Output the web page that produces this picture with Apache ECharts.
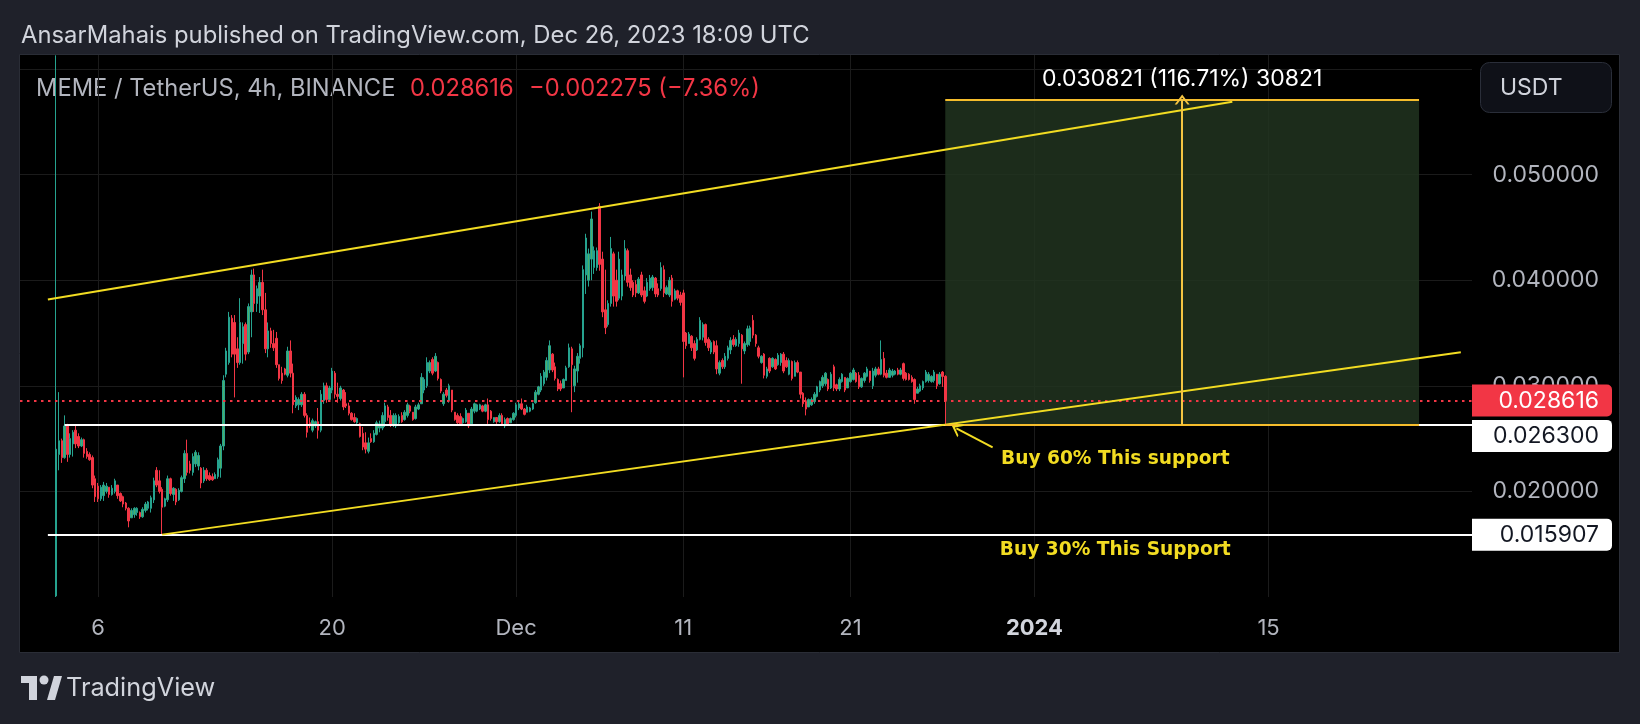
<!DOCTYPE html>
<html>
<head>
<meta charset="utf-8" />
<title>MEME / TetherUS, 4h</title>
<script src="https://cdn.jsdelivr.net/npm/echarts@6/dist/echarts.min.js"></script>
<style>
  html, body { margin: 0; padding: 0; background: #1f212a; }
  #chart { width: 1640px; height: 724px; }
</style>
</head>
<body>
<div id="chart"></div>
<script type="text/javascript">
// 4h slots on the time axis (Nov 1 2023 08:00 UTC .. Jan 27 2024)
var slotStart = Date.UTC(2023, 10, 1, 8);
var slotCount = 522;
function pad(n) { return n < 10 ? '0' + n : '' + n; }
function slotName(t) {
  var d = new Date(t);
  return d.getUTCFullYear() + '-' + pad(d.getUTCMonth() + 1) + '-' + pad(d.getUTCDate()) + ' ' + pad(d.getUTCHours()) + ':00';
}
var slots = [];
for (var s = 0; s < slotCount; s++) slots.push(slotName(slotStart + s * 4 * 3600 * 1000));

var tickDates = ['2023-11-06 00:00', '2023-11-20 00:00', '2023-12-01 00:00', '2023-12-11 00:00', '2023-12-21 00:00', '2024-01-01 00:00', '2024-01-15 00:00'];
var tickLabels = ['6', '20', 'Dec', '11', '21', '2024', '15'];

// MEME/USDT 4h candles, first one at 2023-11-03 12:00 : [open, close, low, high]
var firstCandle = '2023-11-03 12:00';
var candles = [
  [0.0101,0.0240,0.0100,0.0613],[0.0235,0.0248,0.0220,0.0294],[0.0248,0.0232,0.0227,0.0250],[0.0232,0.0262,0.0231,0.0272],
  [0.0262,0.0235,0.0228,0.0264],[0.0235,0.0250,0.0232,0.0255],[0.0245,0.0256,0.0233,0.0258],[0.0258,0.0245,0.0241,0.0262],
  [0.0252,0.0243,0.0241,0.0255],[0.0243,0.0249,0.0242,0.0251],[0.0249,0.0236,0.0232,0.0250],[0.0238,0.0233,0.0231,0.0241],
  [0.0235,0.0230,0.0229,0.0237],[0.0232,0.0206,0.0203,0.0234],[0.0212,0.0195,0.0190,0.0215],[0.0205,0.0193,0.0190,0.0208],
  [0.0193,0.0204,0.0191,0.0206],[0.0196,0.0206,0.0191,0.0209],[0.0200,0.0205,0.0198,0.0208],[0.0204,0.0197,0.0194,0.0204],
  [0.0197,0.0203,0.0196,0.0206],[0.0200,0.0210,0.0198,0.0212],[0.0206,0.0196,0.0193,0.0206],[0.0198,0.0191,0.0190,0.0199],
  [0.0195,0.0188,0.0185,0.0196],[0.0189,0.0184,0.0182,0.0190],[0.0184,0.0172,0.0166,0.0185],[0.0175,0.0182,0.0175,0.0184],
  [0.0178,0.0184,0.0175,0.0185],[0.0180,0.0184,0.0177,0.0185],[0.0180,0.0176,0.0174,0.0181],[0.0176,0.0183,0.0175,0.0185],
  [0.0182,0.0188,0.0180,0.0190],[0.0184,0.0190,0.0182,0.0191],[0.0184,0.0194,0.0180,0.0196],[0.0192,0.0210,0.0189,0.0213],
  [0.0220,0.0206,0.0204,0.0223],[0.0210,0.0200,0.0198,0.0220],[0.0202,0.0185,0.015907,0.0204],[0.0186,0.0193,0.0185,0.0194],
  [0.0192,0.0212,0.0190,0.0215],[0.0212,0.0198,0.0196,0.0213],[0.0197,0.0203,0.0191,0.0204],[0.0202,0.0190,0.0187,0.0203],
  [0.0192,0.0201,0.0191,0.0203],[0.0200,0.0213,0.0199,0.0215],[0.0212,0.0236,0.0208,0.0239],[0.0236,0.0218,0.0215,0.0249],
  [0.0226,0.0220,0.0217,0.0229],[0.0218,0.0233,0.0215,0.0236],[0.0226,0.0237,0.0223,0.0239],[0.0224,0.0234,0.0220,0.0237],
  [0.0222,0.0208,0.0203,0.0223],[0.0210,0.0220,0.0208,0.0223],[0.0220,0.0212,0.0210,0.0222],[0.0215,0.0211,0.0210,0.0218],
  [0.0214,0.0211,0.0210,0.0217],[0.0212,0.0216,0.0212,0.0218],[0.0214,0.0230,0.0212,0.0232],[0.0222,0.0243,0.0213,0.0245],
  [0.0243,0.0305,0.0239,0.0310],
  [0.0311,0.0333,0.0308,0.0336],[0.0322,0.0365,0.0320,0.0370],[0.0364,0.0330,0.0327,0.0367],[0.0360,0.0330,0.0289,0.0367],
  [0.0335,0.0322,0.0317,0.0346],[0.0322,0.0360,0.0320,0.0383],[0.0340,0.0356,0.0321,0.0360],[0.0358,0.0330,0.0324,0.0360],
  [0.0332,0.0375,0.0330,0.0378],[0.0370,0.0405,0.0346,0.0410],[0.0405,0.0378,0.0370,0.0411],[0.0378,0.0392,0.0370,0.0395],
  [0.0385,0.0398,0.0369,0.0403],[0.0398,0.0372,0.0367,0.0410],[0.0372,0.0335,0.0331,0.0388],[0.0335,0.0352,0.0327,0.0360],
  [0.0352,0.0340,0.0336,0.0355],[0.0340,0.0336,0.0333,0.0353],[0.0345,0.0320,0.0317,0.0351],[0.0320,0.0307,0.0305,0.0320],
  [0.0312,0.0305,0.0302,0.0318],[0.0316,0.0311,0.0310,0.0317],[0.0310,0.0333,0.0308,0.0337],[0.0333,0.0312,0.0308,0.0343],
  [0.0312,0.0282,0.0274,0.0321],[0.0281,0.0289,0.0279,0.0291],[0.0282,0.0287,0.0277,0.0289],[0.0282,0.0292,0.0280,0.0294],
  [0.0292,0.0272,0.0270,0.0294],[0.0272,0.0256,0.0251,0.0274],[0.0265,0.0262,0.0260,0.0270],[0.0258,0.0267,0.0256,0.0269],
  [0.0262,0.0266,0.0260,0.0267],[0.0266,0.0258,0.0250,0.0279],[0.0258,0.0292,0.0256,0.0296],[0.0286,0.0300,0.0283,0.0303],
  [0.0300,0.0287,0.0284,0.0303],[0.0287,0.0298,0.0286,0.0300],[0.0296,0.0314,0.0293,0.0317],[0.0312,0.0292,0.0288,0.0314],
  [0.0292,0.0290,0.0284,0.0303],[0.0288,0.0298,0.0286,0.0300],[0.0296,0.0280,0.0277,0.0297],[0.0283,0.0281,0.0279,0.0294],
  [0.0281,0.0274,0.0272,0.0284],[0.0274,0.0268,0.0267,0.0275],[0.0270,0.0266,0.0265,0.0274],[0.0265,0.0269,0.0264,0.0270],
  [0.0264,0.0252,0.0251,0.0265],[0.0255,0.0242,0.0239,0.0261],[0.0246,0.0240,0.0236,0.0256],
  [0.0238,0.0246,0.0236,0.0251],[0.0250,0.0247,0.0246,0.0255],[0.0247,0.0255,0.0246,0.0258],[0.0254,0.0265,0.0253,0.0267],
  [0.0260,0.0264,0.0256,0.0267],[0.0260,0.0272,0.0258,0.0275],[0.0266,0.0281,0.0261,0.0284],[0.0280,0.0270,0.0267,0.0282],
  [0.0272,0.0263,0.0261,0.0277],[0.0263,0.0272,0.0261,0.0274],
  [0.0262,0.0272,0.0260,0.0274],[0.0265,0.0271,0.0264,0.0273],[0.0272,0.0266,0.0265,0.0275],[0.0268,0.0275,0.0267,0.0277],
  [0.0272,0.0282,0.0270,0.0284],[0.0281,0.0276,0.0274,0.0282],[0.0275,0.0268,0.0267,0.0275],[0.0269,0.0280,0.0268,0.0282],
  [0.0278,0.0282,0.0277,0.0284],[0.0283,0.0308,0.0283,0.0312],[0.0296,0.0306,0.0293,0.0308],[0.0300,0.0322,0.0298,0.0327],
  [0.0314,0.0322,0.0312,0.0324],[0.0325,0.0312,0.0310,0.0327],[0.0314,0.0328,0.0313,0.0331],[0.0322,0.0307,0.0305,0.0323],
  [0.0306,0.0295,0.0293,0.0307],[0.0283,0.0292,0.0281,0.0294],[0.0296,0.0291,0.0289,0.0298],[0.0286,0.0300,0.0284,0.0302],
  [0.0296,0.0277,0.0275,0.0296],[0.0275,0.0268,0.0267,0.0275],[0.0272,0.0265,0.0264,0.0274],[0.0271,0.0264,0.0262,0.0274],
  [0.0265,0.0269,0.0264,0.0270],[0.0266,0.0277,0.0265,0.0279],[0.0274,0.0262,0.0260,0.0274],[0.0264,0.0278,0.0264,0.0280],
  [0.0276,0.0283,0.0274,0.0284],[0.0276,0.0282,0.0275,0.0283],[0.0278,0.0282,0.0277,0.0283],[0.0281,0.0276,0.0275,0.0282],
  [0.0276,0.0282,0.0275,0.0283],[0.0282,0.0268,0.0264,0.0288],[0.0276,0.0269,0.0267,0.0277],[0.0266,0.0270,0.0265,0.0270],
  [0.0270,0.0266,0.0264,0.0270],[0.0266,0.0272,0.0265,0.0274],[0.0272,0.0264,0.0262,0.0274],[0.0262,0.0268,0.0260,0.0270],
  [0.0269,0.0264,0.0262,0.0270],[0.0265,0.0269,0.0265,0.0270],[0.0268,0.0274,0.0267,0.0275],[0.0272,0.0282,0.0270,0.0284],
  [0.0279,0.0283,0.0277,0.0285],[0.0283,0.0278,0.0277,0.0288],[0.0278,0.0273,0.0272,0.0279],[0.0275,0.0280,0.0275,0.0282],
  [0.0276,0.0279,0.0275,0.0280],[0.0278,0.0283,0.0277,0.0284],[0.0284,0.0294,0.0283,0.0296],[0.0292,0.0299,0.0291,0.0300],
  [0.0296,0.0309,0.0294,0.0312],[0.0302,0.0313,0.0300,0.0315],[0.0308,0.0324,0.0305,0.0327],[0.0315,0.0338,0.0312,0.0343],
  [0.0330,0.0315,0.0313,0.0331],[0.0318,0.0307,0.0305,0.0322],[0.0306,0.0297,0.0295,0.0307],[0.0302,0.0297,0.0295,0.0305],
  [0.0298,0.0306,0.0298,0.0307],[0.0305,0.0317,0.0305,0.0319],[0.0318,0.0336,0.0317,0.0340],[0.0335,0.0320,0.0275,0.0337],
  [0.0300,0.0316,0.0294,0.0319],[0.0314,0.0328,0.0303,0.0331],[0.0326,0.0338,0.0321,0.0340],[0.0336,0.0410,0.0327,0.0414],
  [0.0405,0.0440,0.0387,0.0444],[0.0400,0.0425,0.0394,0.0430],[0.0420,0.0458,0.0400,0.0465],[0.0412,0.0428,0.0406,0.0432],
  [0.0412,0.0428,0.0409,0.0431],[0.0470,0.0415,0.0409,0.0473],[0.0420,0.0370,0.0365,0.0427],[0.0372,0.0355,0.0349,0.0410],
  [0.0358,0.0378,0.0356,0.0381],[0.0378,0.0430,0.0375,0.0441],[0.0425,0.0385,0.0375,0.0427],[0.0400,0.0380,0.0375,0.0410],
  [0.0383,0.0420,0.0381,0.0427],[0.0385,0.0405,0.0381,0.0410],[0.0404,0.0430,0.0400,0.0438],[0.0428,0.0398,0.0394,0.0430],
  [0.0405,0.0393,0.0390,0.0411],[0.0398,0.0386,0.0384,0.0400],[0.0396,0.0388,0.0384,0.0400],[0.0388,0.0401,0.0387,0.0403],
  [0.0405,0.0386,0.0384,0.0408],[0.0390,0.0380,0.0378,0.0394],[0.0385,0.0398,0.0384,0.0402],[0.0392,0.0402,0.0390,0.0405],
  [0.0393,0.0403,0.0390,0.0405],[0.0402,0.0387,0.0384,0.0403],[0.0392,0.0386,0.0384,0.0397],[0.0392,0.0412,0.0390,0.0417],
  [0.0410,0.0388,0.0384,0.0414],[0.0387,0.0393,0.0386,0.0395],[0.0386,0.0400,0.0384,0.0403],[0.0402,0.0380,0.0375,0.0405],
  [0.0382,0.0390,0.0381,0.0392],[0.0390,0.0383,0.0381,0.0391],[0.0386,0.0379,0.0376,0.0389],[0.0388,0.0342,0.0308,0.0391],
  [0.0350,0.0338,0.0335,0.0351],[0.0340,0.0349,0.0340,0.0351],[0.0347,0.0336,0.0333,0.0348],[0.0340,0.0326,0.0324,0.0343],
  [0.0334,0.0344,0.0333,0.0346],[0.0344,0.0362,0.0343,0.0365],[0.0346,0.0358,0.0343,0.0360],[0.0358,0.0341,0.0338,0.0359],
  [0.0344,0.0336,0.0333,0.0346],[0.0332,0.0341,0.0330,0.0343],[0.0342,0.0332,0.0330,0.0343],[0.0338,0.0316,0.0311,0.0343],
  [0.0312,0.0322,0.0310,0.0324],[0.0324,0.0318,0.0316,0.0326],[0.0318,0.0328,0.0316,0.0331],[0.0326,0.0336,0.0324,0.0338],
  [0.0334,0.0343,0.0330,0.0346],[0.0344,0.0339,0.0337,0.0348],[0.0338,0.0344,0.0337,0.0346],[0.0340,0.0350,0.0337,0.0353],
  [0.0348,0.0335,0.0302,0.0349],[0.0333,0.0340,0.0330,0.0342],[0.0339,0.0354,0.0337,0.0357],[0.0342,0.0355,0.0338,0.0357],
  [0.0362,0.0348,0.0345,0.0367],[0.0348,0.0340,0.0337,0.0349],
  [0.0336,0.0328,0.0326,0.0338],[0.0322,0.0328,0.0321,0.0329],[0.0330,0.0310,0.0307,0.0331],[0.0309,0.0316,0.0307,0.0318],
  [0.0326,0.0314,0.0312,0.0327],[0.0318,0.0326,0.0317,0.0327],[0.0325,0.0316,0.0315,0.0326],[0.0320,0.0329,0.0319,0.0331],
  [0.0322,0.0330,0.0319,0.0331],[0.0330,0.0314,0.0312,0.0332],[0.0324,0.0318,0.0317,0.0327],[0.0311,0.0324,0.0310,0.0326],
  [0.0323,0.0307,0.0305,0.0324],[0.0309,0.0322,0.0309,0.0324],[0.0322,0.0313,0.0312,0.0324],[0.0313,0.0292,0.0288,0.0313],
  [0.0293,0.0283,0.0280,0.0294],[0.0285,0.0278,0.0272,0.0289],[0.0280,0.0287,0.0280,0.0288],[0.0282,0.0287,0.0281,0.0289],
  [0.0285,0.0292,0.0283,0.0294],[0.0290,0.0299,0.0289,0.0300],[0.0296,0.0304,0.0294,0.0305],[0.0300,0.0308,0.0298,0.0310],
  [0.0302,0.0312,0.0300,0.0313],[0.0306,0.0297,0.0295,0.0307],[0.0298,0.0311,0.0297,0.0313],[0.0318,0.0298,0.0295,0.0320],
  [0.0301,0.0297,0.0295,0.0302],[0.0297,0.0306,0.0295,0.0308],[0.0304,0.0311,0.0303,0.0312],[0.0308,0.0296,0.0294,0.0308],
  [0.0298,0.0307,0.0298,0.0308],[0.0304,0.0312,0.0303,0.0313],[0.0306,0.0315,0.0305,0.0317],[0.0312,0.0304,0.0303,0.0313],
  [0.0310,0.0299,0.0297,0.0313],[0.0299,0.0307,0.0298,0.0308],[0.0305,0.0312,0.0303,0.0313],[0.0309,0.0316,0.0308,0.0318],
  [0.0314,0.0305,0.0303,0.0314],[0.0300,0.0314,0.0297,0.0317],[0.0310,0.0316,0.0308,0.0318],[0.0316,0.0311,0.0310,0.0318],
  [0.0311,0.0325,0.0310,0.0343],[0.0326,0.0310,0.0308,0.0332],[0.0312,0.0308,0.0307,0.0315],[0.0308,0.0315,0.0308,0.0317],
  [0.0310,0.0314,0.0308,0.0316],[0.0311,0.0314,0.0310,0.0315],[0.0315,0.0311,0.0310,0.0317],[0.0311,0.0315,0.0310,0.0317],
  [0.0321,0.0307,0.0305,0.0322],[0.0312,0.0306,0.0305,0.0313],[0.0311,0.0306,0.0305,0.0312],[0.0308,0.0304,0.0303,0.0310],
  [0.0306,0.0287,0.0283,0.0307],[0.0293,0.0297,0.0293,0.0299],[0.0295,0.0300,0.0294,0.0302],[0.0298,0.0304,0.0296,0.0305],
  [0.0304,0.0313,0.0303,0.0315],[0.0305,0.0311,0.0303,0.0313],[0.0304,0.0309,0.0303,0.0310],[0.0305,0.0313,0.0303,0.0315],
  [0.0311,0.0300,0.0297,0.0311],[0.0302,0.0311,0.0301,0.0313],[0.0313,0.030891,0.0299,0.0314],[0.0309,0.028616,0.0263,0.0310]
];

// levels and drawings
var lastPrice = 0.028616;
var supportHigh = 0.0263;
var supportLow = 0.015907;
var targetPrice = 0.057121;
var targetText = '0.030821 (116.71%) 30821';
var channelUpper = [['2023-11-03 00:00', 0.03818], ['2024-01-12 20:00', 0.05690]];
var channelLower = [['2023-11-09 20:00', 0.015907], ['2024-01-26 12:00', 0.03318]];
var supportHighFrom = '2023-11-04 00:00';
var supportLowFrom = '2023-11-03 00:00';
var positionFrom = '2023-12-26 16:00';
var positionTo = '2024-01-24 00:00';
var arrowAt = '2024-01-09 20:00';
var buyArrow = [['2023-12-29 12:00', 0.02417], ['2023-12-27 08:00', 0.02597]];
var notes = [['2024-01-05 20:00', 0.02303, 'Buy 60% This support'], ['2024-01-05 20:00', 0.01441, 'Buy 30% This Support']];

var FONT = 'Inter, "Noto Sans", Roboto, sans-serif';
var chevron = 'path://M0,12 L6,0 L12,12 L10.2,12 L6,4 L1.8,12 Z';
var gridColor = '#1b1b1b';

var firstSlot = slots.indexOf(firstCandle);
var candleData = candles.map(function (c, i) { return [firstSlot + i, c[0], c[1], c[2], c[3]]; });
var lastSlot = slots[slots.length - 1];

function isTick(idx, val) { return tickDates.indexOf(val) >= 0; }

function priceTag(value, bg, fg, extraTop) {
  return {
    show: true, position: 'end', distance: 0,
    padding: [extraTop || 0, 0, 0, 0],
    formatter: '{t|' + value.toFixed(6) + '}',
    rich: { t: { backgroundColor: bg, color: fg, fontFamily: FONT, fontSize: 23, lineHeight: 24,
                 width: 116, align: 'right', padding: [5, 13, 4, 11], borderRadius: [0, 5, 5, 0] } }
  };
}

var dom = document.getElementById('chart');
var myChart = echarts.init(dom, null, { renderer: 'canvas' });

var option = {
  backgroundColor: '#1f212a',
  animation: false,
  textStyle: { fontFamily: FONT },
  grid: { left: 20, right: 168, top: 55, bottom: 127 },
  xAxis: {
    type: 'category', data: slots, boundaryGap: false,
    axisLine: { show: false }, axisTick: { show: false },
    axisLabel: {
      interval: isTick,
      color: '#b2b5be', fontSize: 22, fontFamily: FONT, margin: 20,
      formatter: function (v) {
        var k = tickDates.indexOf(v);
        if (k < 0) return '';
        return tickLabels[k] === '2024' ? '{b|2024}' : tickLabels[k];
      },
      rich: { b: { fontWeight: 'bold', fontSize: 22, color: '#d1d4dc', fontFamily: FONT } }
    },
    splitLine: { show: true, interval: isTick, lineStyle: { color: gridColor, width: 1 } }
  },
  yAxis: {
    type: 'value', position: 'right', min: 0.01, max: 0.06133, interval: 0.01,
    axisLine: { show: false }, axisTick: { show: false },
    axisLabel: {
      color: '#b2b5be', fontSize: 23, fontFamily: FONT, align: 'right', margin: 127,
      formatter: function (v) { return (v > 0.015 && v < 0.055) ? v.toFixed(6) : ''; }
    },
    splitLine: { showMinLine: false, showMaxLine: false, lineStyle: { color: gridColor, width: 1 } }
  },
  series: [{
    type: 'candlestick',
    data: candleData,
    encode: { x: 0, y: [1, 2, 3, 4] },
    barWidth: 2,
    clip: true,
    itemStyle: { color: '#4cae68', color0: '#f23645', borderColor: '#26a38f', borderColor0: '#f23645', borderWidth: 1 },
    markArea: {
      silent: true,
      data: [[{ coord: [positionFrom, targetPrice], itemStyle: { color: 'rgba(34,54,33,0.82)' } }, { coord: [positionTo, supportHigh] }]]
    },
    markLine: {
      silent: true, animation: false, precision: 6, symbol: ['none', 'none'],
      label: { show: false },
      data: [
        { yAxis: lastPrice, lineStyle: { color: '#f23645', type: [2.5, 4.5], width: 2 }, label: priceTag(lastPrice, '#f23645', '#ffffff') },
        [{ coord: [supportHighFrom, supportHigh], lineStyle: { color: '#ffffff', type: 'solid', width: 2 }, label: priceTag(supportHigh, '#ffffff', '#131722', 22) },
         { coord: [lastSlot, supportHigh] }],
        [{ coord: [supportLowFrom, supportLow], lineStyle: { color: '#ffffff', type: 'solid', width: 2 }, label: priceTag(supportLow, '#ffffff', '#131722') },
         { coord: [lastSlot, supportLow] }],
        [{ coord: channelUpper[0], lineStyle: { color: '#f2dc22', type: 'solid', width: 2 } }, { coord: channelUpper[1] }],
        [{ coord: channelLower[0], lineStyle: { color: '#f2dc22', type: 'solid', width: 2 } }, { coord: channelLower[1] }],
        [{ coord: [positionFrom, targetPrice], lineStyle: { color: '#f5bd2c', type: 'solid', width: 2 } }, { coord: [positionTo, targetPrice] }],
        [{ coord: [positionFrom, supportHigh], lineStyle: { color: '#f5bd2c', type: 'solid', width: 2 } }, { coord: [positionTo, supportHigh] }],
        [{ coord: [arrowAt, supportHigh], lineStyle: { color: '#f5c542', type: 'solid', width: 2 },
           label: { show: true, position: 'end', distance: 9, color: '#ffffff', fontSize: 23, fontFamily: FONT, formatter: targetText } },
         { coord: [arrowAt, targetPrice], symbol: chevron, symbolSize: [15, 10] }],
        [{ coord: buyArrow[0], lineStyle: { color: '#f2dc22', type: 'solid', width: 2 } },
         { coord: buyArrow[1], symbol: chevron, symbolSize: [15, 10] }]
      ]
    },
    markPoint: {
      silent: true, animation: false,
      data: notes.map(function (n) {
        return { coord: [n[0], n[1]], symbol: 'circle', symbolSize: 0,
                 label: { show: true, position: 'inside', formatter: n[2], color: '#f2dc22', fontWeight: 'bold', fontSize: 18.6, fontFamily: '"DejaVu Sans", Verdana, sans-serif' } };
      })
    }
  }],
  graphic: [
    { type: 'rect', z: -10, shape: { x: 19.5, y: 54.5, width: 1600, height: 598 }, style: { fill: '#000000', stroke: '#2a2d36', lineWidth: 1 } },
    { type: 'text', x: 21, y: 36, style: { text: 'AnsarMahais published on TradingView.com, Dec 26, 2023 18:09 UTC', fill: '#d1d4dc', font: '23.8px ' + FONT, verticalAlign: 'middle', textVerticalAlign: 'middle' } },
    { type: 'text', x: 36, y: 89, style: { text: 'MEME / TetherUS, 4h, BINANCE', fill: '#b2b5be', font: '23.7px ' + FONT, verticalAlign: 'middle', textVerticalAlign: 'middle' } },
    { type: 'text', x: 410, y: 89, style: { text: '0.028616', fill: '#f23645', font: '23.7px ' + FONT, verticalAlign: 'middle', textVerticalAlign: 'middle' } },
    { type: 'text', x: 529, y: 89, style: { text: '\u22120.002275 (\u22127.36%)', fill: '#f23645', font: '23.7px ' + FONT, verticalAlign: 'middle', textVerticalAlign: 'middle' } },
    { type: 'rect', z: 100, shape: { x: 1480.5, y: 62.5, width: 131, height: 50, r: 9 }, style: { fill: '#0f1118', stroke: '#2a2e39', lineWidth: 1 } },
    { type: 'text', z: 101, x: 1500, y: 88, style: { text: 'USDT', fill: '#d1d4dc', font: '23px ' + FONT, verticalAlign: 'middle', textVerticalAlign: 'middle' } },
    { type: 'rect', shape: { x: 21, y: 676, width: 16, height: 7 }, style: { fill: '#d1d4dc' } },
    { type: 'rect', shape: { x: 29, y: 676, width: 8, height: 24 }, style: { fill: '#d1d4dc' } },
    { type: 'circle', shape: { cx: 44, cy: 680, r: 4.5 }, style: { fill: '#d1d4dc' } },
    { type: 'polygon', shape: { points: [[47, 700], [54, 676], [62, 676], [55, 700]] }, style: { fill: '#d1d4dc' } },
    { type: 'text', x: 66, y: 688, style: { text: 'TradingView', fill: '#d1d4dc', font: '25.3px ' + FONT, verticalAlign: 'middle', textVerticalAlign: 'middle' } }
  ]
};

myChart.setOption(option);
</script>
</body>
</html>
